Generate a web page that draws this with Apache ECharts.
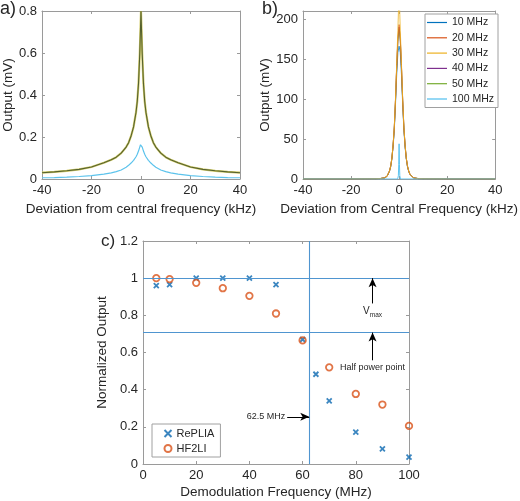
<!DOCTYPE html>
<html>
<head>
<meta charset="utf-8">
<script src="https://cdn.jsdelivr.net/npm/echarts@6/dist/echarts.min.js"></script>
<style>html,body{margin:0;padding:0;background:#fff}#c{width:520px;height:501px}</style>
</head>
<body>
<div id="c"></div>
<script>
// ---------- data ----------
// Panel a: deviation from central frequency (kHz)
const aX = [-40,-35,-30,-25,-20,-15,-12,-10,-8,-6,-5,-4,-3,-2,-1.5,-1,-0.5,-0.2,0,0.2,0.5,1,1.5,2,3,4,5,6,8,10,12,15,20,25,30,35,40];
// 10-50 MHz curves (overlapping, olive)
const aMain = [0.030,0.034,0.039,0.046,0.057,0.077,0.092,0.104,0.123,0.152,0.173,0.205,0.248,0.318,0.37,0.455,0.595,0.715,0.80,0.715,0.595,0.455,0.37,0.318,0.248,0.205,0.173,0.152,0.123,0.104,0.092,0.077,0.057,0.046,0.039,0.034,0.030];
// 100 MHz curve
const a100 = [0.006,0.007,0.009,0.012,0.016,0.023,0.029,0.035,0.043,0.056,0.065,0.076,0.089,0.106,0.118,0.133,0.152,0.163,0.168,0.163,0.152,0.133,0.118,0.106,0.089,0.076,0.065,0.056,0.043,0.035,0.029,0.023,0.016,0.012,0.009,0.007,0.006];

// Panel b
const bX = [-40,-20,-10,-8,-6,-5,-4.5,-4,-3.5,-3,-2.5,-2,-1.5,-1,-0.5,0,0.5,1,1.5,2,2.5,3,3.5,4,4.5,5,6,8,10,20,40];
const b10 = [0,0,0.2,0.5,1.4,3.3,5.7,9.5,15,25,40,61,93,130,158,166,158,130,93,61,40,25,15,9.5,5.7,3.3,1.4,0.5,0.2,0,0];
const b20 = [0,0,0.2,0.5,1.5,3.5,6,10,16,26,42,64,98,140,176,193,176,140,98,64,42,26,16,10,6,3.5,1.5,0.5,0.2,0,0];
const b30 = [0,0,0.2,0.5,1.5,3.5,6,10,16,26,42,65,100,143,186,236,186,143,100,65,42,26,16,10,6,3.5,1.5,0.5,0.2,0,0];
const b40 = [0,0,0.2,0.5,1.5,3.5,6,10,16,26,42,64,98,139,174,190,174,139,98,64,42,26,16,10,6,3.5,1.5,0.5,0.2,0,0];
const b50 = [0,0,0.2,0.5,1.5,3.5,6,10,16,26,42,64,97,138,172,188,172,138,97,64,42,26,16,10,6,3.5,1.5,0.5,0.2,0,0];
const b100X = [-40,-0.6,-0.3,-0.15,0,0.15,0.3,0.6,40];
const b100 = [0,0,4,18,44,18,4,0,0];
const bNames = ['10 MHz','20 MHz','30 MHz','40 MHz','50 MHz','100 MHz'];

// Panel c
const cFreq = [5,10,20,30,40,50,60,65,70,80,90,100];
const cReplia = [0.96,0.965,1.0,1.0,1.0,0.965,0.67,0.483,0.34,0.172,0.082,0.037];
const cHFreq = [5,10,20,30,40,50,60,70,80,90,100];
const cHf2li = [1.0,0.995,0.975,0.946,0.905,0.81,0.665,0.52,0.377,0.32,0.205];
const cVmax = 1.0;
const cHalfPower = 0.707;
const cCutoff = 62.5;

// tick labels
const abXTicks = [-40,-20,0,20,40];
const aYTicks = [0,0.2,0.4,0.6,0.8];
const bYTicks = [0,50,100,150,200];
const cXTicks = [0,20,40,60,80,100];
const cYTicks = [0,0.2,0.4,0.6,0.8,1,1.2];

// ---------- style ----------
const FONT = 'Liberation Sans, Arial, Helvetica, sans-serif';
const AX = '#9a9a9a';
const TX = '#262626';
const C = {c10:'#0072BD', c20:'#D95319', c30:'#EDB120', c40:'#7E2F8E', c50:'#77AC30', c100:'#4DBEEE'};

function pairs(xs, ys){ return xs.map((x,i)=>[x, ys[i]]); }

function xAxisPair(gi, min, max, ticks, name, gap){
  const base = {
    gridIndex: gi, type: 'value', min: min, max: max,
    axisLine: {show: true, onZero: false, lineStyle: {color: AX, width: 1}},
    axisTick: {show: true, inside: true, length: 3, customValues: ticks, lineStyle: {color: AX}},
    splitLine: {show: false}
  };
  return [
    Object.assign({}, base, {
      position: 'bottom',
      axisLabel: {show: true, customValues: ticks, color: TX, fontSize: 13, margin: 5, fontFamily: FONT},
      name: name, nameLocation: 'middle', nameGap: gap,
      nameTextStyle: {color: TX, fontSize: 13.5, fontFamily: FONT}
    }),
    Object.assign({}, base, {position: 'top', axisLabel: {show: false}})
  ];
}
function yAxisPair(gi, min, max, ticks, name, gap){
  const base = {
    gridIndex: gi, type: 'value', min: min, max: max,
    axisLine: {show: true, onZero: false, lineStyle: {color: AX, width: 1}},
    axisTick: {show: true, inside: true, length: 3, customValues: ticks, lineStyle: {color: AX}},
    splitLine: {show: false}
  };
  return [
    Object.assign({}, base, {
      position: 'left',
      axisLabel: {show: true, customValues: ticks, color: TX, fontSize: 13, margin: 5, fontFamily: FONT},
      name: name, nameLocation: 'middle', nameGap: gap, nameRotate: 90,
      nameTextStyle: {color: TX, fontSize: 13.5, fontFamily: FONT}
    }),
    Object.assign({}, base, {position: 'right', axisLabel: {show: false}})
  ];
}

const xAxes = [].concat(
  xAxisPair(0, -40, 40, abXTicks, 'Deviation from central frequency (kHz)', 23),
  xAxisPair(1, -40, 40, abXTicks, 'Deviation from Central Frequency (kHz)', 23),
  xAxisPair(2, 0, 100, cXTicks, 'Demodulation Frequency (MHz)', 21)
);
const yAxes = [].concat(
  yAxisPair(0, 0, 0.8, aYTicks, 'Output (mV)', 20),
  yAxisPair(1, 0, 210, bYTicks, 'Output (mV)', 21),
  yAxisPair(2, 0, 1.2, cYTicks, 'Normalized Output', 23)
);

function lineS(name, xi, yi, data, color, width, opacity){
  return {
    name: name, type: 'line', xAxisIndex: xi, yAxisIndex: yi, data: data,
    symbol: 'none', showSymbol: false, smooth: false, animation: false,
    lineStyle: {color: color, width: width, opacity: opacity == null ? 1 : opacity},
    itemStyle: {color: color}
  };
}

const annLine = {color: '#000', width: 1, type: 'solid'};
const refLine = {color: '#4f95d0', width: 1.1, type: 'solid', opacity: 1};

const series = [
  // panel a
  lineS('a-main-halo', 0, 0, pairs(aX, aMain), '#d3cc6a', 2.2),
  lineS('a-main', 0, 0, pairs(aX, aMain), '#56622e', 1.1),
  lineS('a-100', 0, 0, pairs(aX, a100), '#5cc3ec', 1.2),
  // panel b (drawing order chosen so that 20/30 MHz are on top)
  lineS('10 MHz', 2, 2, pairs(bX, b10), C.c10, 1, 0.75),
  lineS('40 MHz', 2, 2, pairs(bX, b40), C.c40, 1, 0.75),
  lineS('50 MHz', 2, 2, pairs(bX, b50), C.c50, 1, 0.75),
  lineS('20 MHz', 2, 2, pairs(bX, b20), C.c20, 1, 0.8),
  lineS('30 MHz', 2, 2, pairs(bX, b30), C.c30, 1, 0.8),
  lineS('100 MHz', 2, 2, pairs(b100X, b100), C.c100, 1, 0.9),
  // panel c reference lines
  {
    name: 'refs', type: 'line', xAxisIndex: 4, yAxisIndex: 4, data: [], silent: true,
    color: '#4f95d0',
    markLine: {
      silent: true, animation: false, symbol: ['none','none'],
      label: {show: false},
      lineStyle: refLine,
      data: [
        [{coord: [0, cVmax]}, {coord: [100, cVmax]}],
        [{coord: [0, cHalfPower]}, {coord: [100, cHalfPower]}],
        [{coord: [cCutoff, 0]}, {coord: [cCutoff, 1.2]}]
      ]
    }
  },
  // panel c arrows + text
  {
    name: 'annot', type: 'line', xAxisIndex: 4, yAxisIndex: 4, data: [], silent: true,
    color: '#000',
    markLine: {
      silent: true, animation: false, symbol: ['none','arrow'], symbolSize: [6, 9],
      lineStyle: annLine,
      data: [
        [
          {coord: [54.2, 0.254],
           label: {show: true, position: 'start', distance: 2, formatter: '62.5 MHz', color: TX, fontSize: 9, fontFamily: FONT}},
          {coord: [cCutoff, 0.254]}
        ],
        [
          {coord: [86.3, 0.864],
           label: {show: true, position: 'start', distance: 3, formatter: '{v|V}{s|max}', color: TX, fontFamily: FONT,
                   rich: {v: {fontSize: 10, color: TX, fontFamily: FONT, lineHeight: 12, verticalAlign: 'top'},
                          s: {fontSize: 6.5, color: TX, fontFamily: FONT, lineHeight: 12, verticalAlign: 'bottom', padding: [6,0,0,0]}}}},
          {coord: [86.3, cVmax]}
        ],
        [
          {coord: [86.3, 0.558],
           label: {show: true, position: 'start', distance: 3, formatter: 'Half power point', color: TX, fontSize: 9, fontFamily: FONT}},
          {coord: [86.3, cHalfPower]}
        ]
      ]
    }
  },
  {
    name: 'RePLIA', type: 'scatter', xAxisIndex: 4, yAxisIndex: 4, data: pairs(cFreq, cReplia),
    symbol: 'path://M0,0L10,10M10,0L0,10', symbolSize: 5, animation: false,
    itemStyle: {color: 'rgba(0,0,0,0)', borderColor: '#0a68b0', borderWidth: 1.8}
  },
  {
    name: 'HF2LI', type: 'scatter', xAxisIndex: 4, yAxisIndex: 4, data: pairs(cHFreq, cHf2li),
    symbol: 'circle', symbolSize: 6.5, animation: false,
    itemStyle: {color: 'rgba(0,0,0,0)', borderColor: '#D95319', borderWidth: 1.8}
  }
];

const option = {
  backgroundColor: '#fff',
  animation: false,
  textStyle: {fontFamily: FONT},
  grid: [
    {left: 38, top: 11, width: 202, height: 168, containLabel: false},
    {left: 303, top: 11, width: 203, height: 168, containLabel: false},
    {left: 143, top: 241, width: 266, height: 223, containLabel: false}
  ],
  xAxis: xAxes,
  yAxis: yAxes,
  legend: [
    {
      data: bNames, orient: 'vertical', left: 425, top: 14,
      icon: 'rect', itemWidth: 20, itemHeight: 1.2, itemGap: 4.3, itemTextGap: 3,
      padding: [3, 4, 3, 2],
      borderColor: '#a0a0a0', borderWidth: 1, backgroundColor: '#fff',
      textStyle: {color: TX, fontSize: 10.5, fontFamily: FONT, lineHeight: 10}
    },
    {
      data: ['RePLIA', 'HF2LI'], orient: 'vertical', left: 152, top: 424,
      itemWidth: 7, itemHeight: 7, itemGap: 4, itemTextGap: 12,
      padding: [4, 6, 3, 11.5],
      borderColor: '#a0a0a0', borderWidth: 1, backgroundColor: '#fff',
      textStyle: {color: TX, fontSize: 11, fontFamily: FONT, lineHeight: 10}
    }
  ],
  graphic: [
    {type: 'text', left: 0, top: 0, style: {text: 'a)', fontSize: 18, fill: TX, fontFamily: FONT}},
    {type: 'text', left: 262, top: 0, style: {text: 'b)', fontSize: 18, fill: TX, fontFamily: FONT}},
    {type: 'text', left: 101, top: 233, style: {text: 'c)', fontSize: 17, fill: TX, fontFamily: FONT}}
  ],
  series: series
};

const chart = echarts.init(document.getElementById('c'), null, {renderer: 'canvas'});
chart.setOption(option);
</script>
</body>
</html>
